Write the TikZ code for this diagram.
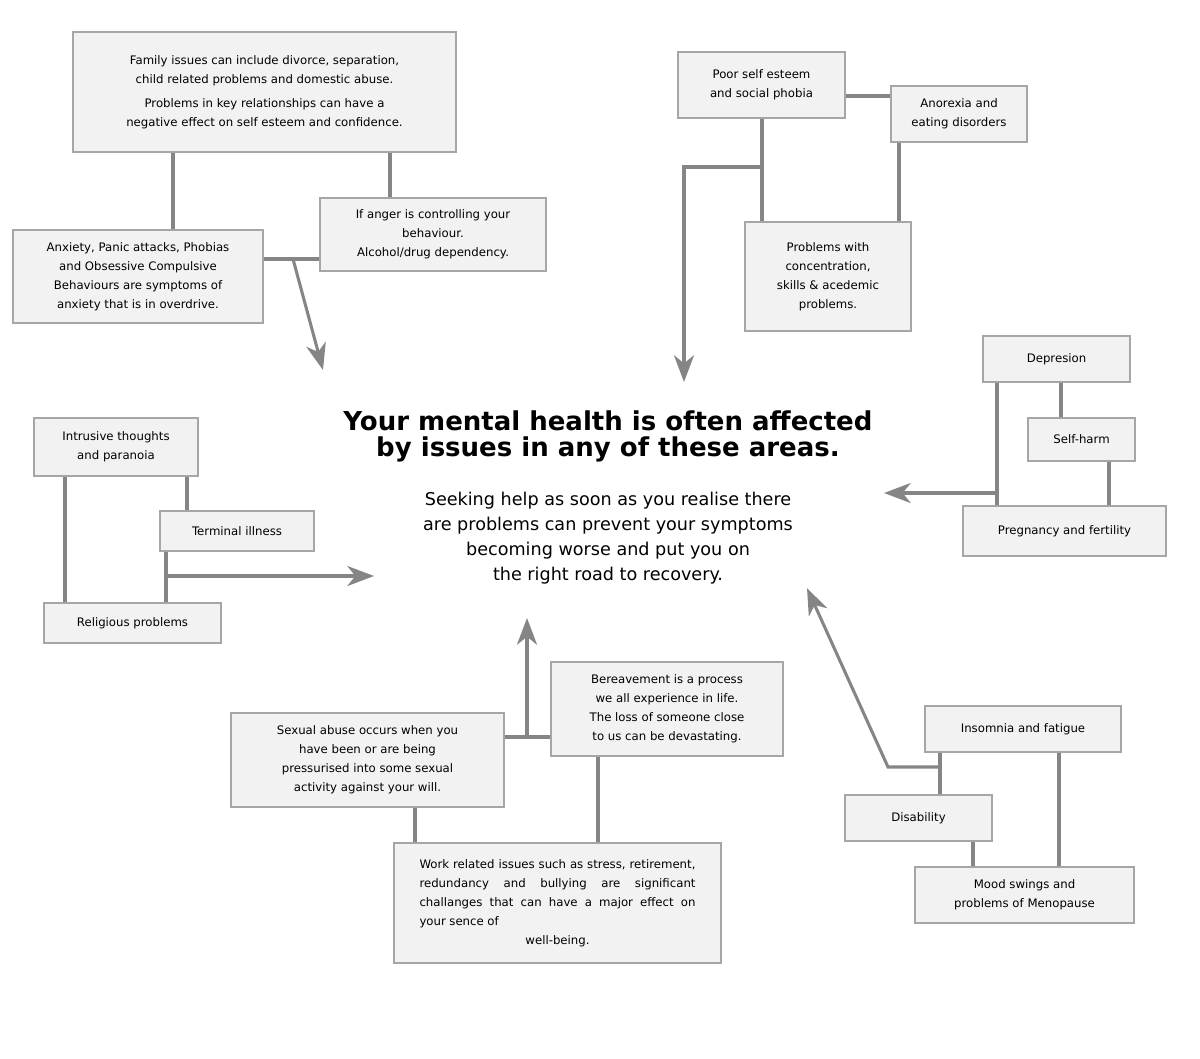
\documentclass[tikz,border=0pt]{standalone}
\usepackage{fontspec}
\setmainfont{DejaVu Sans}
\usetikzlibrary{arrows.meta}
\newcommand\bx[6]{\node[box,minimum width={(#4-#2)*0.75pt},minimum height={(#5-#3)*0.75pt}] (#1) at ({(#2+#4)/2},{-(#3+#5)/2}) {#6};}
\begin{document}
\begin{tikzpicture}[x=0.75pt,y=0.75pt,
  box/.style={draw=black!35,fill=black!5,line width=0.9pt,align=center,inner sep=2pt,font=\fontsize{8.8}{14.2}\selectfont},
  conn/.style={draw=black!48,line width=2.3pt},
  arr/.style={conn,-{Stealth[length=20pt,width=15pt,inset=6pt]}}]
\useasboundingbox (0,0) rectangle (1200,-1058);
\bx{b1}{73}{32}{456}{152}{Family issues can include divorce, separation,\\child related problems and domestic abuse.\\[4pt]Problems in key relationships can have a\\negative effect on self esteem and confidence.}
\bx{b2}{320}{198}{546}{271}{If anger is controlling your\\behaviour.\\Alcohol/drug dependency.}
\bx{b3}{13}{230}{263}{323}{Anxiety, Panic attacks, Phobias\\and Obsessive Compulsive\\Behaviours are symptoms of\\anxiety that is in overdrive.}
\bx{b4}{678}{52}{845}{118}{Poor self esteem\\and social phobia}
\bx{b5}{891}{86}{1027}{142}{Anorexia and\\eating disorders}
\bx{b6}{745}{222}{911}{331}{Problems with\\concentration,\\skills \& acedemic\\problems.}
\bx{b7}{983}{336}{1130}{382}{Depresion}
\bx{b8}{1028}{418}{1135}{461}{Self-harm}
\bx{b9}{963}{506}{1166}{556}{Pregnancy and fertility}
\bx{b10}{34}{418}{198}{476}{Intrusive thoughts\\and paranoia}
\bx{b11}{160}{511}{314}{551}{Terminal illness}
\bx{b12}{44}{603}{221}{643}{Religious problems}
\bx{b13}{231}{713}{504}{807}{Sexual abuse occurs when you\\have been or are being\\pressurised into some sexual\\activity against your will.}
\bx{b14}{551}{662}{783}{756}{Bereavement is a process\\we all experience in life.\\The loss of someone close\\to us can be devastating.}
\node[box,minimum width={327*0.75pt},minimum height={120*0.75pt}] (b15) at (557.5,-903) {\parbox{276\dimexpr0.75pt\relax}{\spaceskip=0.3em plus 1em\relax Work related issues such as stress, retirement, redundancy and bullying are significant challanges that can have a major effect on your sence of\par\centering well-being.}};
\bx{b16}{925}{706}{1121}{752}{Insomnia and fatigue}
\bx{b17}{845}{795}{992}{841}{Disability}
\bx{b18}{915}{867}{1134}{923}{Mood swings and\\problems of Menopause}
\node[font=\fontsize{19.5}{19.5}\selectfont\bfseries,align=center] (t) at (608,-436) {Your mental health is often affected\\by issues in any of these areas.};
\node[font=\fontsize{13.2}{18.75}\selectfont,align=center] (s) at (608,-538) {Seeking help as soon as you realise there\\are problems can prevent your symptoms\\becoming worse and put you on\\the right road to recovery.};
% group 1
\draw[conn] (b1.south -| 173,0) -- (b3.north -| 173,0);
\draw[conn] (b1.south -| 390,0) -- (b2.north -| 390,0);
\draw[conn] (b3.east |- 0,-259) -- (b2.west |- 0,-259);
\coordinate (a1) at (323,-370);
\draw[arr] (293,-259) -- (a1);
% group 2
\draw[conn] (b4.east |- 0,-96) -- (b5.west |- 0,-96);
\draw[conn] (b4.south -| 762,0) -- (b6.north -| 762,0);
\draw[conn] (b5.south -| 899,0) -- (b6.north -| 899,0);
\coordinate (a2) at (684,-382);
\draw[arr] (762,-167) -- (684,-167) -- (a2);
% group 3
\draw[conn] (b7.south -| 997,0) -- (b9.north -| 997,0);
\draw[conn] (b7.south -| 1061,0) -- (b8.north -| 1061,0);
\draw[conn] (b8.south -| 1109,0) -- (b9.north -| 1109,0);
\coordinate (a3) at (884,-493);
\draw[arr] (997,-493) -- (a3);
% group 4
\draw[conn] (b10.south -| 65,0) -- (b12.north -| 65,0);
\draw[conn] (b10.south -| 187,0) -- (b11.north -| 187,0);
\draw[conn] (b11.south -| 166,0) -- (b12.north -| 166,0);
\coordinate (a4) at (374,-576);
\draw[arr] (166,-576) -- (a4);
% group 5
\draw[conn] (b13.east |- 0,-737) -- (b14.west |- 0,-737);
\coordinate (a5) at (527,-618);
\draw[arr] (527,-737) -- (a5);
\draw[conn] (b13.south -| 415,0) -- (b15.north -| 415,0);
\draw[conn] (b14.south -| 598,0) -- (b15.north -| 598,0);
% group 6
\draw[conn] (b16.south -| 940,0) -- (b17.north -| 940,0);
\draw[conn] (b16.south -| 1059,0) -- (b18.north -| 1059,0);
\draw[conn] (b17.south -| 973,0) -- (b18.north -| 973,0);
\coordinate (a6) at (807,-588);
\draw[arr] (940,-767) -- (888,-767) -- (a6);
\end{tikzpicture}
\end{document}
